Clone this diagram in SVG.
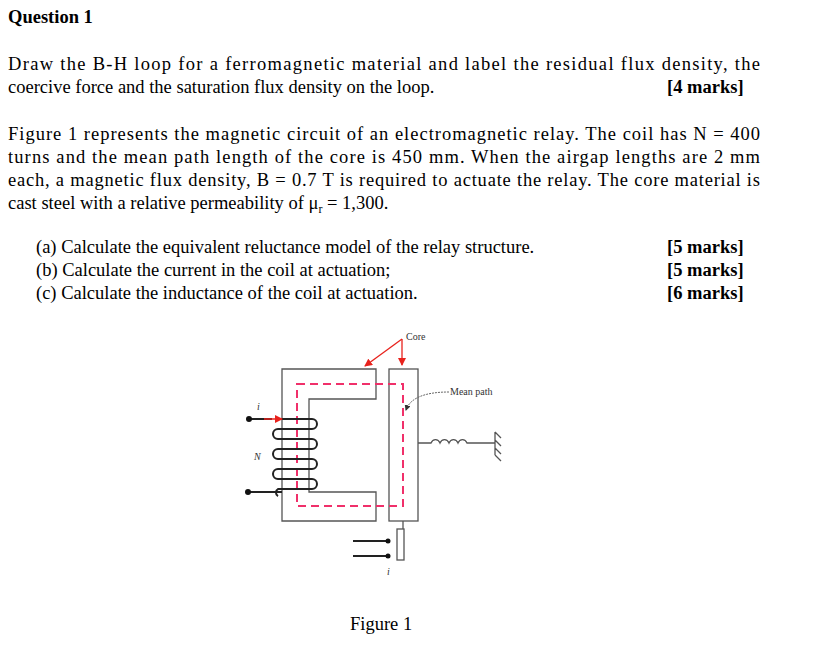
<svg xmlns="http://www.w3.org/2000/svg" width="835" height="653" viewBox="0 0 835 653">
<defs>
<marker id="ar" markerWidth="8" markerHeight="8" refX="7" refY="4" orient="auto" markerUnits="userSpaceOnUse"><path d="M0,0 L8,4 L0,8 Z" fill="#e8221c"/></marker>
<marker id="ak" markerWidth="6" markerHeight="6" refX="5" refY="3" orient="auto" markerUnits="userSpaceOnUse"><path d="M0,0 L6,3 L0,6 Z" fill="#333"/></marker>
</defs>
<style>
.t{font-family:"Liberation Serif",serif;font-size:18.5px;fill:#000}
.b{font-weight:bold}
.s{font-family:"Liberation Serif",serif;font-size:10px;fill:#333}
.ln{fill:none;stroke:#555;stroke-width:1.3}
.w{fill:none;stroke:#222;stroke-width:2}
</style>
<rect width="835" height="653" fill="#fff"/>
<g id="text">
<text class="t b" x="8" y="23">Question 1</text>
<text class="t" x="8" y="70" textLength="752" lengthAdjust="spacing">Draw the B-H loop for a ferromagnetic material and label the residual flux density, the</text>
<text class="t" x="8" y="93">coercive force and the saturation flux density on the loop.</text>
<text class="t b" x="667" y="93">[4 marks]</text>
<text class="t" x="8" y="140" textLength="752" lengthAdjust="spacing">Figure 1 represents the magnetic circuit of an electromagnetic relay. The coil has N = 400</text>
<text class="t" x="8" y="163" textLength="752" lengthAdjust="spacing">turns and the mean path length of the core is 450 mm. When the airgap lengths are 2 mm</text>
<text class="t" x="8" y="186" textLength="752" lengthAdjust="spacing">each, a magnetic flux density, B = 0.7 T is required to actuate the relay. The core material is</text>
<text class="t" x="8" y="209">cast steel with a relative permeability of μ<tspan font-size="12" dy="4">r</tspan><tspan dy="-4"> = 1,300.</tspan></text>
<text class="t" x="36" y="253">(a) Calculate the equivalent reluctance model of the relay structure.</text>
<text class="t b" x="667" y="253">[5 marks]</text>
<text class="t" x="36" y="276">(b) Calculate the current in the coil at actuation;</text>
<text class="t b" x="667" y="276">[5 marks]</text>
<text class="t" x="36" y="299">(c) Calculate the inductance of the coil at actuation.</text>
<text class="t b" x="667" y="299">[6 marks]</text>
<text class="t" x="350" y="630">Figure 1</text>
</g>
<g id="core">
<path class="ln" d="M282,369 H376 V399 H309 V492 H376 V521 H282 Z"/>
</g>
<g id="armature">
<rect class="ln" x="389" y="369" width="29" height="152"/>
<rect class="ln" x="397" y="529" width="7" height="31"/>
</g>
<g id="meanpath">
<rect x="297" y="384" width="106" height="122" fill="none" stroke="#f0306a" stroke-width="2" stroke-dasharray="8,5"/>
</g>
<g id="coil">
<path class="w" stroke-width="1.8" d="M281,419 H312 a4,4 0 0 1 0,10 H278 a4,4 0 0 0 0,10 H312 a4,4 0 0 1 0,10 H278 a4,4 0 0 0 0,10 H312 a4,4 0 0 1 0,10 H278 a4,4 0 0 0 0,10 H312 a4,4 0 0 1 0,10 H278 a4,4 0 0 0 0,7"/>
</g>
<g id="spring">
<path class="ln" d="M418,443 H431 a5,6 0 0 1 9,0 a5,6 0 0 1 9,0 a5,6 0 0 1 9,0 a5,6 0 0 1 9,0 H495 M495,432 V455 M495,432 l6,6 M495,440 l6,6 M495,448 l6,6 M495,455 l6,6"/>
</g>
<g id="connectors">
<line class="w" x1="249" y1="419" x2="272" y2="419"/>
<line x1="264" y1="419" x2="282" y2="419" stroke="#e8221c" stroke-width="1.5" marker-end="url(#ar)"/>
<circle cx="249" cy="419" r="3" fill="#111"/>
<line class="w" x1="248" y1="492" x2="282" y2="492"/>
<circle cx="248" cy="492" r="3" fill="#111"/>
<line x1="402" y1="339" x2="365" y2="366" stroke="#e8221c" stroke-width="1.3" marker-end="url(#ar)"/>
<line x1="402" y1="339" x2="402" y2="365" stroke="#e8221c" stroke-width="1.3" marker-end="url(#ar)"/>
<path d="M449,392 C425,392 410,398 406,410" fill="none" stroke="#666" stroke-width="1" stroke-dasharray="2,1" marker-end="url(#ak)"/>
<line class="ln" x1="403" y1="521" x2="403" y2="529"/>
<line class="w" x1="353" y1="541" x2="388" y2="541"/>
<circle cx="388" cy="541" r="2.5" fill="#111"/>
<line class="w" x1="353" y1="556" x2="388" y2="556"/>
<circle cx="388" cy="556" r="2.5" fill="#111"/>
</g>
<g id="labels">
<text class="s" x="406" y="340">Core</text>
<text class="s" x="450" y="395">Mean path</text>
<text class="s" x="257" y="410" font-style="italic" fill="#335">i</text>
<text class="s" x="254" y="460" font-style="italic">N</text>
<text class="s" x="387" y="575" font-style="italic" font-size="8">i</text>
</g>
</svg>
